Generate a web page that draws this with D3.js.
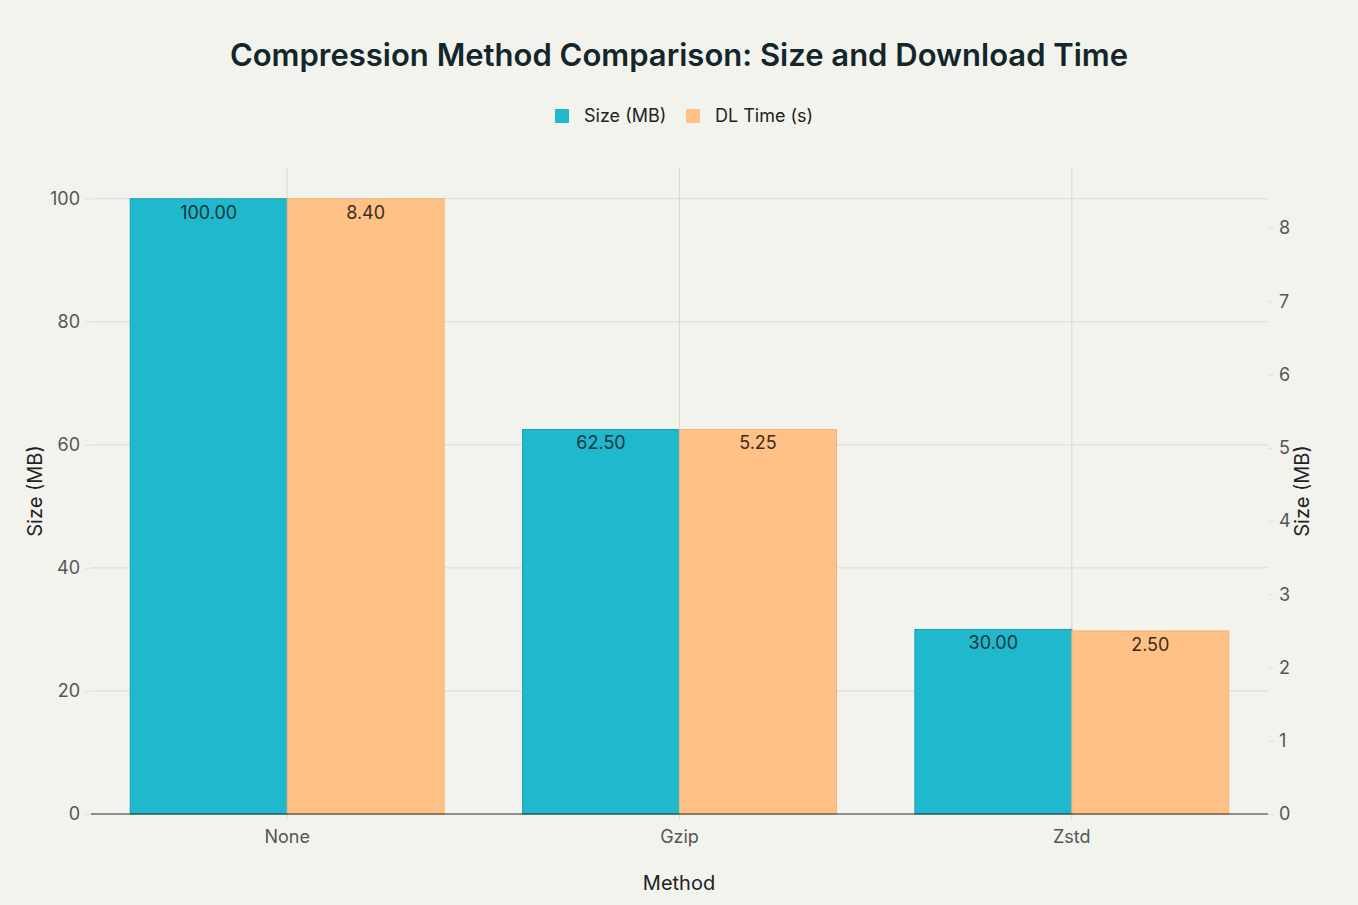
<!DOCTYPE html>
<html>
<head>
<meta charset="utf-8">
<script src="https://cdn.jsdelivr.net/npm/d3@7"></script>
<style>
  body { margin: 0; background: #f3f3ee; }
  svg { font-family: Inter, "Open Sans", sans-serif; }
</style>
</head>
<body>
<div id="chart"></div>
<script>
// Chart data
const methods = ["None", "Gzip", "Zstd"];
const sizeMB = [100.0, 62.5, 30.0];
const dlTime = [8.4, 5.25, 2.5];
const leftTicks = [0, 20, 40, 60, 80, 100];
const rightTicks = [0, 1, 2, 3, 4, 5, 6, 7, 8];
const seriesNames = ["Size (MB)", "DL Time (s)"];
const colors = ["#1FB8CD", "#FFC185"];

const width = 1358, height = 905;
const margin = { top: 168, right: 90, bottom: 91, left: 91 };
const x0 = margin.left, x1 = width - margin.right;
const yBottom = height - margin.bottom;

const svg = d3.select("#chart")
    .append("svg")
    .attr("width", width)
    .attr("height", height);

svg.append("rect").attr("width", width).attr("height", height).attr("fill", "#f3f3ee");

// Scales
const x = d3.scaleBand().domain(methods).range([x0, x1]).paddingInner(0.2).paddingOuter(0.1);
const xSub = d3.scaleBand().domain([0, 1]).range([0, x.bandwidth()]);
const yL = d3.scaleLinear().domain([0, 105]).range([yBottom, margin.top]);
const yR = d3.scaleLinear().domain([0, 8.82]).range([yBottom, margin.top]);

// Horizontal grid (left axis)
svg.append("g")
    .selectAll("line")
    .data(leftTicks.filter(d => d > 0))
    .enter()
    .append("line")
    .attr("x1", x0).attr("x2", x1)
    .attr("y1", d => yL(d)).attr("y2", d => yL(d))
    .attr("stroke", "#d9d9d6").attr("stroke-width", 1);

// Vertical grid at category centres
svg.append("g")
    .selectAll("line")
    .data(methods)
    .enter()
    .append("line")
    .attr("x1", d => x(d) + x.bandwidth() / 2).attr("x2", d => x(d) + x.bandwidth() / 2)
    .attr("y1", margin.top).attr("y2", yBottom + 6)
    .attr("stroke", "#d9d9d6").attr("stroke-width", 1);

// Bars
const rows = methods.map((m, i) => ({ m: m, vals: [sizeMB[i], dlTime[i]] }));
const groups = svg.append("g")
    .selectAll("g")
    .data(rows)
    .enter()
    .append("g")
    .attr("transform", d => "translate(" + x(d.m) + ",0)");

groups.selectAll("rect")
    .data(d => d.vals.map((v, k) => ({ v: v, k: k })))
    .enter()
    .append("rect")
    .attr("x", d => xSub(d.k))
    .attr("width", xSub.bandwidth())
    .attr("y", d => d.k === 0 ? yL(d.v) : yR(d.v))
    .attr("height", d => yBottom - (d.k === 0 ? yL(d.v) : yR(d.v)))
    .attr("fill", d => colors[d.k])
    .attr("stroke", d => d.k === 0 ? "#1a9fb2" : "#f0b37a")
    .attr("stroke-width", 1);

groups.selectAll("text")
    .data(d => d.vals.map((v, k) => ({ v: v, k: k })))
    .enter()
    .append("text")
    .attr("x", d => xSub(d.k) + xSub.bandwidth() / 2)
    .attr("y", d => (d.k === 0 ? yL(d.v) : yR(d.v)) + 20)
    .attr("text-anchor", "middle")
    .attr("font-size", 18)
    .attr("fill", d => d.k === 0 ? "#17363b" : "#3a2c1f")
    .text(d => d.v.toFixed(2));

// Zero line
svg.append("line")
    .attr("x1", x0).attr("x2", x1)
    .attr("y1", yBottom).attr("y2", yBottom)
    .attr("stroke", "#2b2b2b").attr("stroke-width", 1.2);

// Left axis
const left = svg.append("g").attr("transform", "translate(" + x0 + ",0)")
    .call(d3.axisLeft(yL).tickValues(leftTicks).tickSize(6).tickPadding(5));
left.select(".domain").remove();
left.selectAll(".tick line").attr("stroke", "#e0e0dc");
left.selectAll(".tick text").attr("font-size", 18).attr("fill", "#555555")
    .attr("font-family", "Inter, sans-serif");

// Right axis
const right = svg.append("g").attr("transform", "translate(" + x1 + ",0)")
    .call(d3.axisRight(yR).tickValues(rightTicks).tickSize(6).tickPadding(5));
right.select(".domain").remove();
right.selectAll(".tick line").attr("stroke", "#e0e0dc");
right.selectAll(".tick text").attr("font-size", 18).attr("fill", "#555555")
    .attr("font-family", "Inter, sans-serif");

// Bottom axis
const bottom = svg.append("g").attr("transform", "translate(0," + yBottom + ")")
    .call(d3.axisBottom(x).tickSize(0).tickPadding(16));
bottom.select(".domain").remove();
bottom.selectAll(".tick text").attr("font-size", 18).attr("fill", "#555555")
    .attr("font-family", "Inter, sans-serif");

// Axis titles
svg.append("text")
    .attr("x", width / 2).attr("y", 890)
    .attr("text-anchor", "middle").attr("font-size", 20).attr("fill", "#222")
    .text("Method");

svg.append("text")
    .attr("transform", "translate(42," + (margin.top + yBottom) / 2 + ") rotate(-90)")
    .attr("text-anchor", "middle").attr("font-size", 20).attr("fill", "#222")
    .text("Size (MB)");

svg.append("text")
    .attr("transform", "translate(1309," + (margin.top + yBottom) / 2 + ") rotate(-90)")
    .attr("text-anchor", "middle").attr("font-size", 20).attr("fill", "#222")
    .text("Size (MB)");

// Title
svg.append("text")
    .attr("x", 679).attr("y", 66)
    .attr("text-anchor", "middle").attr("font-size", 31).attr("font-weight", 600)
    .attr("fill", "#13262b")
    .text("Compression Method Comparison: Size and Download Time");

// Legend
const legendX = [555, 686];
const legend = svg.append("g")
    .selectAll("g")
    .data(seriesNames)
    .enter()
    .append("g")
    .attr("transform", (d, i) => "translate(" + legendX[i] + ",109)");
legend.append("rect")
    .attr("width", 14).attr("height", 14)
    .attr("fill", (d, i) => colors[i]);
legend.append("text")
    .attr("x", 29).attr("y", 13)
    .attr("font-size", 18).attr("fill", "#222")
    .text(d => d);
</script>
</body>
</html>
